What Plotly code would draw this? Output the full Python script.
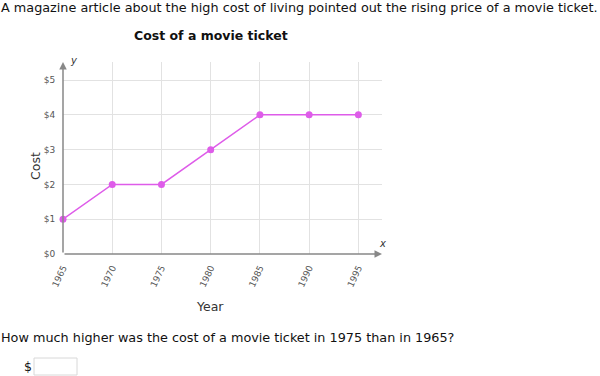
import plotly.graph_objects as go

years = [1965, 1970, 1975, 1980, 1985, 1990, 1995]
cost = [1, 2, 2, 3, 4, 4, 4]
y_ticks = [0, 1, 2, 3, 4, 5]
y_tick_labels = ["$0", "$1", "$2", "$3", "$4", "$5"]

font_family = "Verdana, DejaVu Sans, sans-serif"
line_color = "#de5ce9"
axis_color = "#888888"

fig = go.Figure()
fig.add_trace(go.Scatter(
    x=years, y=cost, mode="lines+markers",
    line=dict(color=line_color, width=1.5),
    marker=dict(color=line_color, size=7),
    cliponaxis=False, hoverinfo="skip"
))

x0, x1 = 1965, 1997.4
y0, y1 = 0, 5.52

fig.update_layout(
    width=600, height=376,
    margin=dict(l=63, r=218, t=62, b=122),
    paper_bgcolor="white", plot_bgcolor="white",
    showlegend=False,
    font=dict(family=font_family, color="#333"),
    xaxis=dict(range=[x0, x1], tickvals=years, ticktext=[str(v) for v in years],
               tickangle=-65, showgrid=True, gridcolor="#e2e2e2", gridwidth=1,
               zeroline=False, showline=False, ticks="outside", ticklen=4,
               tickcolor="rgba(0,0,0,0)",
               tickfont=dict(size=9, color="#555", family=font_family)),
    yaxis=dict(range=[y0, y1], tickvals=y_ticks, ticktext=y_tick_labels,
               showgrid=True, gridcolor="#e2e2e2", gridwidth=1,
               zeroline=False, showline=False, ticks="outside", ticklen=5,
               tickcolor="rgba(0,0,0,0)",
               tickfont=dict(size=9, color="#555", family=font_family)),
)

# axis arrows
fig.add_annotation(x=x1, y=0, ax=x0, ay=0, xref="x", yref="y", axref="x", ayref="y",
                   showarrow=True, arrowhead=2, arrowsize=1, arrowwidth=1.5,
                   arrowcolor=axis_color, text="")
fig.add_annotation(x=x0, y=y1, ax=x0, ay=0, xref="x", yref="y", axref="x", ayref="y",
                   showarrow=True, arrowhead=2, arrowsize=1, arrowwidth=1.5,
                   arrowcolor=axis_color, text="")
fig.add_annotation(x=x1, y=0, xref="x", yref="y", text="<i>x</i>", showarrow=False,
                   xanchor="center", yanchor="bottom", yshift=3, xshift=0,
                   font=dict(size=10, color="#333", family=font_family))
fig.add_annotation(x=x0, y=y1, xref="x", yref="y", text="<i>y</i>", showarrow=False,
                   xanchor="left", yanchor="middle", xshift=5, yshift=2,
                   font=dict(size=10, color="#333", family=font_family))

# texts
fig.add_annotation(xref="paper", yref="paper", x=-64/319, y=1 + 55/192, xanchor="left", yanchor="middle",
                   text="A magazine article about the high cost of living pointed out the rising price of a movie ticket.",
                   showarrow=False, font=dict(size=12.8, color="#111", family=font_family))
fig.add_annotation(xref="paper", yref="paper", x=(211-63)/319, y=1 + 27/192, xanchor="center", yanchor="middle",
                   text="<b>Cost of a movie ticket</b>",
                   showarrow=False, font=dict(size=12.5, color="#111", family=font_family))
fig.add_annotation(xref="paper", yref="paper", x=(35-63)/319, y=(254-166)/192, xanchor="center", yanchor="middle",
                   text="Cost", textangle=-90,
                   showarrow=False, font=dict(size=12.5, color="#333", family=font_family))
fig.add_annotation(xref="paper", yref="paper", x=(210-63)/319, y=(254-306)/192, xanchor="center", yanchor="middle",
                   text="Year",
                   showarrow=False, font=dict(size=12.5, color="#333", family=font_family))
fig.add_annotation(xref="paper", yref="paper", x=-64/319, y=(254-337)/192, xanchor="left", yanchor="middle",
                   text="How much higher was the cost of a movie ticket in 1975 than in 1965?",
                   showarrow=False, font=dict(size=12.8, color="#111", family=font_family))
fig.add_annotation(xref="paper", yref="paper", x=(34-63)/319, y=(254-366)/192, xanchor="right", yanchor="middle",
                   text="$",
                   showarrow=False, font=dict(size=12.5, color="#111", family=font_family))
fig.add_shape(type="rect", xref="paper", yref="paper",
              x0=(34-63)/319, x1=(77-63)/319, y0=(254-358)/192, y1=(254-375)/192,
              line=dict(color="#d8d8d8", width=1), fillcolor="white")

fig.write_html("out.html", config={"displayModeBar": False},
               post_script="document.body.style.margin='0';document.body.style.overflow='hidden';")
